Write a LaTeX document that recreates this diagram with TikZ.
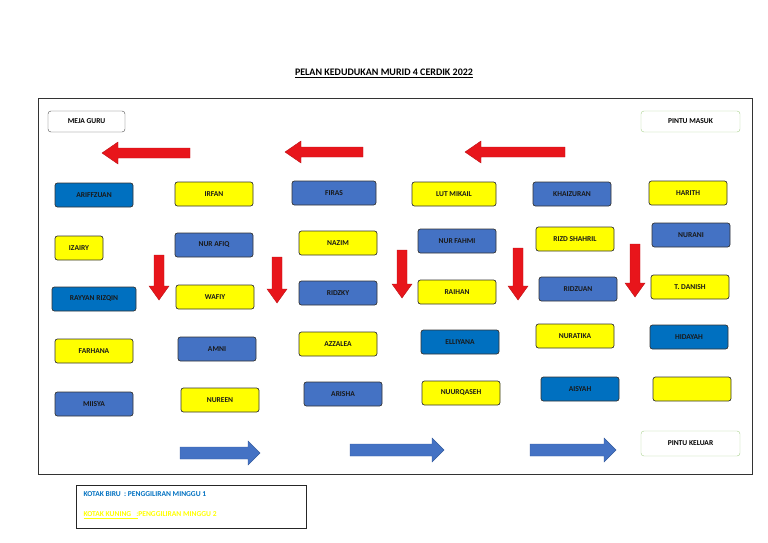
\documentclass[tikz,border=0pt]{standalone}
\usepackage{fontspec}
\setmainfont{Carlito}
\usetikzlibrary{arrows.meta}
\definecolor{dblue}{HTML}{0070C0}
\definecolor{lblue}{HTML}{4472C4}
\definecolor{yel}{HTML}{FFFF00}
\definecolor{redA}{HTML}{E8151B}
\definecolor{grn}{HTML}{A9D18E}
\begin{document}
\begin{tikzpicture}[x=1pt,y=-1pt,
  seat/.style={draw=black!80,rounded corners=2.5pt,minimum width=78pt,minimum height=24pt,font=\bfseries\fontsize{7.5}{8}\selectfont,text=black!90,line width=0.7pt},
  yb/.style={seat,fill=yel},
  db/.style={seat,fill=dblue},
  lb/.style={seat,fill=lblue},
  lab/.style={draw=black!70,rounded corners=3pt,minimum height=21pt,font=\bfseries\fontsize{7.5}{8}\selectfont,fill=white},
  redarr/.style={draw=redA!80!black,fill=redA,line width=0.4pt},
  bluarr/.style={draw=lblue!80!black,fill=lblue,line width=0.4pt}]
\useasboundingbox (0,0) rectangle (768,543);
\node[font=\bfseries\fontsize{10}{12}\selectfont] (title) at (384,73) {\underline{PELAN KEDUDUKAN MURID 4 CERDIK 2022}};
\draw[black!80,line width=0.8pt] (38,98) rectangle (752,474);
\node[lab,minimum width=77pt] (guru) at (86.5,121.5) {MEJA GURU};
\node[lab,draw=grn,minimum width=99pt] (masuk) at (690.5,121.5) {PINTU MASUK};
\node[lab,draw=grn,minimum width=99pt,minimum height=25pt] (keluar) at (690.5,443.5) {PINTU KELUAR};
% col1
\node[db] (a1) at (94,195) {ARIFFZUAN};
\node[yb,minimum width=48pt] (a2) at (79,248) {IZAIRY};
\node[db,minimum width=84pt] (a3) at (94,299) {RAYYAN RIZQIN};
\node[yb] (a4) at (94,351) {FARHANA};
\node[lb] (a5) at (94,404) {MIISYA};
% col2
\node[yb] (b1) at (214,194) {IRFAN};
\node[lb] (b2) at (214,245) {NUR AFIQ};
\node[yb] (b3) at (215,297) {WAFIY};
\node[lb] (b4) at (217,349) {AMNI};
\node[yb] (b5) at (220,400) {NUREEN};
% col3
\node[lb,minimum width=84pt] (c1) at (334,193) {FIRAS};
\node[yb] (c2) at (338,243) {NAZIM};
\node[lb] (c3) at (338,293) {RIDZKY};
\node[yb] (c4) at (338,344) {AZZALEA};
\node[lb] (c5) at (343,394) {ARISHA};
% col4
\node[yb,minimum width=84pt] (d1) at (454,194) {LUT MIKAIL};
\node[lb] (d2) at (457,241) {NUR FAHMI};
\node[yb] (d3) at (457,292) {RAIHAN};
\node[db] (d4) at (460,342) {ELLIYANA};
\node[yb] (d5) at (461,393) {NUURQASEH};
% col5
\node[lb] (e1) at (572,194) {KHAIZURAN};
\node[yb] (e2) at (575,239) {RIZD SHAHRIL};
\node[lb] (e3) at (578,289) {RIDZUAN};
\node[yb] (e4) at (575,336) {NURATIKA};
\node[db] (e5) at (580,389) {AISYAH};
% col6
\node[yb] (f1) at (688,193) {HARITH};
\node[lb] (f2) at (691,235) {NURANI};
\node[yb] (f3) at (690,287) {T. DANISH};
\node[db] (f4) at (689,337) {HIDAYAH};
\node[yb] (f5) at (692,389) {};
% red left arrows
\foreach \xa/\xb/\y in {190/102/153, 363/285/152, 565/465/152}{
  \draw[redarr] (\xa,\y-5) -- (\xb+16,\y-5) -- (\xb+16,\y-11) -- (\xb,\y) -- (\xb+16,\y+11) -- (\xb+16,\y+5) -- (\xa,\y+5) -- cycle;}
% red down arrows
\foreach \x/\ya/\yb in {159/255/300, 277/257/303, 402/250/298, 518/248/300, 635/244/297}{
  \draw[redarr] (\x-5,\ya) -- (\x+5,\ya) -- (\x+5,\yb-14) -- (\x+10,\yb-14) -- (\x,\yb) -- (\x-10,\yb-14) -- (\x-5,\yb-14) -- cycle;}
% blue right arrows
\foreach \xa/\xb/\y in {180/260/453, 350/444/450, 530/616/450}{
  \draw[bluarr] (\xa,\y-6) -- (\xb-12,\y-6) -- (\xb-12,\y-12) -- (\xb,\y) -- (\xb-12,\y+12) -- (\xb-12,\y+6) -- (\xa,\y+6) -- cycle;}
% legend
\node[draw=black!85,line width=0.7pt,minimum width=230pt,minimum height=43pt] (leg) at (191,506.5) {};
\node[anchor=west,font=\bfseries\fontsize{7.5}{8}\selectfont,text=dblue] (l1) at (80,494) {KOTAK BIRU\ \ : PENGGILIRAN MINGGU 1};
\node[anchor=west,font=\bfseries\fontsize{7.5}{8}\selectfont,text=yel] (l2) at (80,515) {\underline{KOTAK KUNING\ \ \ :}PENGGILIRAN MINGGU 2};
\end{tikzpicture}
\end{document}
